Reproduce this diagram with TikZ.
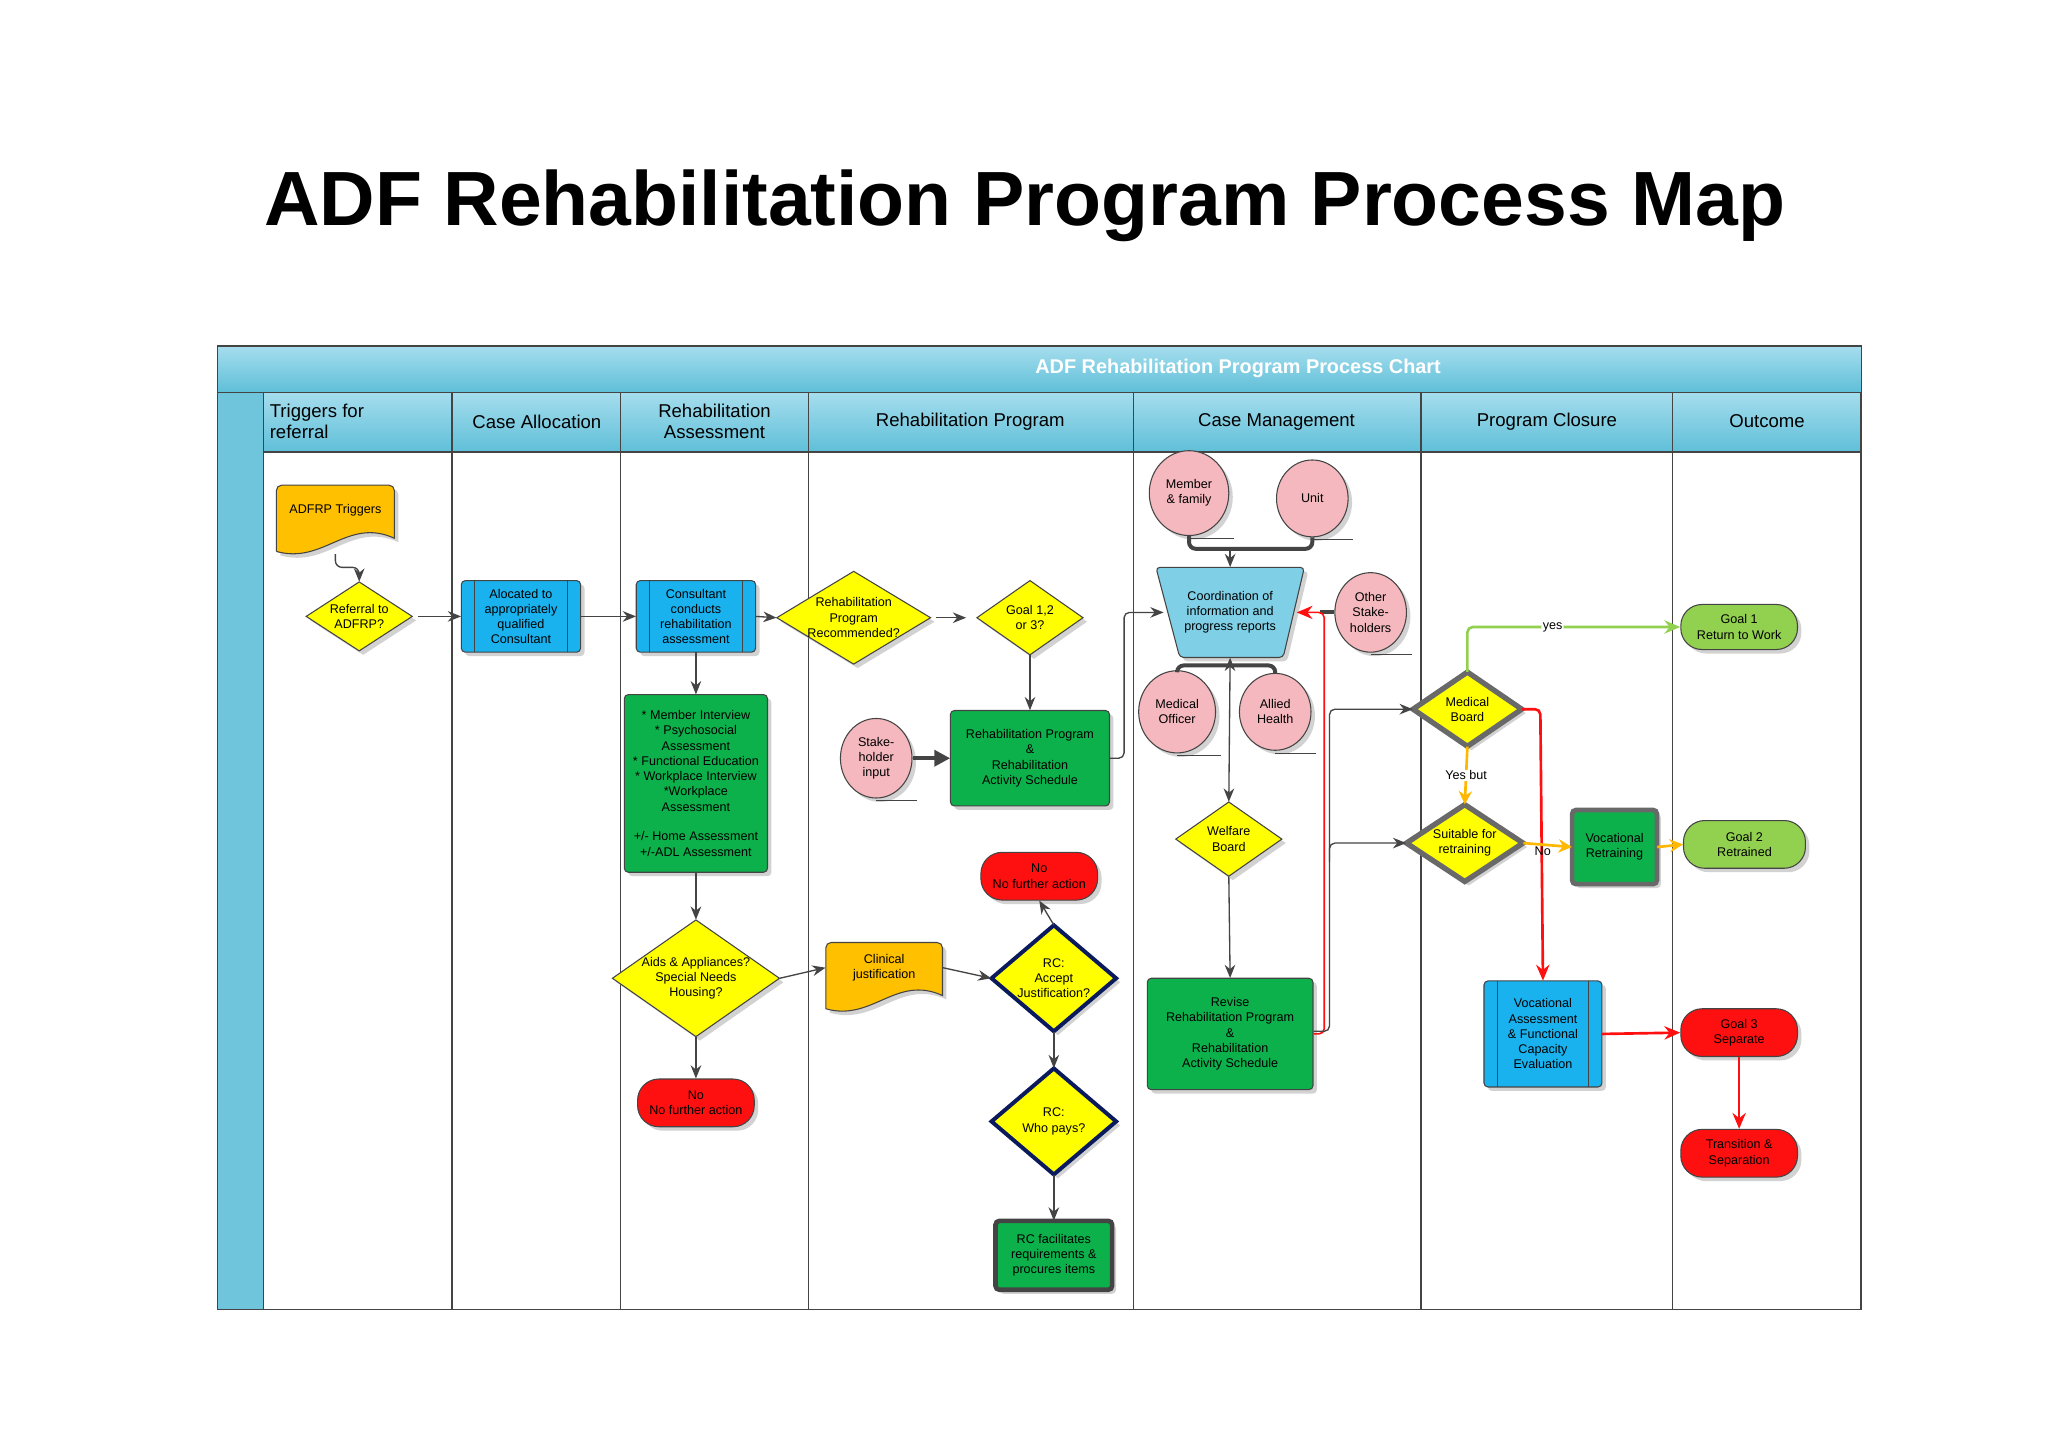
\documentclass[tikz,border=0pt]{standalone}
\usepackage{fontspec}
\setmainfont{Liberation Sans}
\usetikzlibrary{arrows.meta,shapes.geometric,shadows}
\definecolor{hdr}{HTML}{7FCFE6}
\definecolor{hdrd}{HTML}{5FBFD8}
\definecolor{yel}{HTML}{FFFF00}
\definecolor{blu}{HTML}{19B2EE}
\definecolor{grn}{HTML}{0DB14B}
\definecolor{lgrn}{HTML}{92D050}
\definecolor{rd}{HTML}{FF1010}
\definecolor{pnk}{HTML}{F4B8BE}
\definecolor{org}{HTML}{FFC000}
\definecolor{nav}{HTML}{0A1A5C}
\definecolor{edg}{HTML}{444444}
\definecolor{ylo}{HTML}{FFB800}
\newcommand\Dia[7]{%
\path[draw=edg,line width=0.8pt,fill=yel,drop shadow={shadow xshift=3pt,shadow yshift=-3pt,fill=black!35},#6] ({#2-#4/2},#3) -- (#2,{#3-#5/2}) -- ({#2+#4/2},#3) -- (#2,{#3+#5/2}) -- cycle;
\node[txt,minimum width=#4pt,minimum height=#5pt,inner sep=0pt] (#1) at (#2,#3) {#7};}
\newcommand\Rbox[7]{%
\path[draw=edg,line width=0.8pt,rounded corners=3pt,drop shadow={shadow xshift=3pt,shadow yshift=-3pt,fill=black!35},fill=#6] ({#2-#4/2},{#3-#5/2}) rectangle ({#2+#4/2},{#3+#5/2});
\node[txt,minimum width=#4pt,minimum height=#5pt,inner sep=0pt] (#1) at (#2,#3) {#7};}
\newcommand\Proc[6]{%
\Rbox{#1}{#2}{#3}{#4}{#5}{blu}{#6}
\draw[edg,line width=0.8pt] ({#2-#4/2+10},{#3-#5/2}) -- ({#2-#4/2+10},{#3+#5/2}) ({#2+#4/2-10},{#3-#5/2}) -- ({#2+#4/2-10},{#3+#5/2});}
\newcommand\Doc[6]{%
\path[draw=edg,line width=0.8pt,drop shadow={shadow xshift=3pt,shadow yshift=-3pt,fill=black!35},fill=org,rounded corners=4pt] ({#2-#4/2},{#3+#5/2-4}) -- ({#2-#4/2},{#3-#5/2}) -- ({#2+#4/2},{#3-#5/2}) [sharp corners]-- ({#2+#4/2},{#3+#5/2-14}) .. controls ({#2+#4*0.1},{#3+#5/2-30}) and ({#2-#4*0.1},{#3+#5/2+6}) .. ({#2-#4/2},{#3+#5/2-4});
\node[txt,minimum width=#4pt,minimum height=#5pt,inner sep=0pt] (#1) at (#2,{#3-8}) {#6};}
\newcommand\Ell[6]{%
\node[txt,ellipse,draw=edg,line width=0.8pt,fill=pnk,inner sep=0pt,minimum width=#4pt,minimum height=#5pt,drop shadow={shadow xshift=3pt,shadow yshift=-3pt,fill=black!35}] (#1) at (#2,#3) {#6};
\draw[edg,line width=0.6pt] (#2,{#3+#5/2+2}) -- ({#2+#4/2+4},{#3+#5/2+2});}
\newcommand\Pill[7]{%
\node[txt,draw=edg,line width=0.8pt,fill=#6,rounded corners=16pt,inner sep=0pt,minimum width=#4pt,minimum height=#5pt,drop shadow={shadow xshift=3pt,shadow yshift=-3pt,fill=black!35}] (#1) at (#2,#3) {#7};}
\begin{document}
\begin{tikzpicture}[x=1pt,y=-1pt,
 txt/.style={font=\fontsize{9.5}{11.5}\selectfont,align=center,text=black},
 ar/.style={draw=edg,line width=1pt,-{Stealth[length=10pt,width=8pt]}},
 hd/.style={draw=edg,line width=0.8pt,top color=hdr!70!white,bottom color=hdrd}]
\useasboundingbox (0,0) rectangle (1545,1092);
\fill[white] (0,0) rectangle (1545,1092);
\node[font=\fontsize{58}{62}\selectfont\bfseries] (title) at (773,155) {ADF Rehabilitation Program Process Map};
% frame
\path[hd] (164,261) rectangle (1404,296);
\node[font=\fontsize{15}{17}\selectfont\bfseries,text=white] (ctitle) at (934,278) {ADF Rehabilitation Program Process Chart};
\path[draw=edg,line width=0.8pt,fill=hdrd!90] (164,296) rectangle (199,988);
\foreach \a/\b in {199/341,341/468,468/610,610/855,855/1072,1072/1262,1262/1404}{
 \path[hd] (\a,296) rectangle (\b,341);
 \draw[edg,line width=0.8pt] (\a,341) -- (\a,988);}
\draw[edg,line width=1pt] (164,988) -- (1404,988) -- (1404,296);
\node[font=\fontsize{14}{16}\selectfont,align=left,anchor=west] (h1) at (200,318) {Triggers for\\referral};
\node[font=\fontsize{14}{16}\selectfont] (h2) at (405,318) {Case Allocation};
\node[font=\fontsize{14}{16}\selectfont,align=center] (h3) at (539,318) {Rehabilitation\\Assessment};
\node[font=\fontsize{14}{16}\selectfont] (h4) at (732,318) {Rehabilitation Program};
\node[font=\fontsize{14}{16}\selectfont] (h5) at (963,318) {Case Management};
\node[font=\fontsize{14}{16}\selectfont] (h6) at (1167,318) {Program Closure};
\node[font=\fontsize{14}{16}\selectfont] (h7) at (1333,318) {Outcome};
% nodes
\Doc{trig}{253}{393}{89}{54}{ADFRP Triggers}
\Dia{ref}{271}{465}{80}{52}{}{Referral to\\ADFRP?}
\Proc{alloc}{393}{465}{90}{54}{Alocated to\\appropriately\\qualified\\Consultant}
\Proc{cons}{525}{465}{90}{54}{Consultant\\conducts\\rehabilitation\\assessment}
\Dia{rpr}{644}{466}{116}{70}{}{Rehabilitation\\Program\\Recommended?}
\Dia{goal}{777}{466}{80}{56}{}{Goal 1,2\\or 3?}
\Rbox{assess}{525}{591}{108}{134}{grn}{* Member Interview\\* Psychosocial\\Assessment\\* Functional Education\\* Workplace Interview\\*Workplace\\Assessment\\[11pt]+/- Home Assessment\\+/-ADL Assessment}
\Ell{stake}{661}{572}{54}{60}{Stake-\\holder\\input}
\Rbox{rprog}{777}{572}{120}{72}{grn}{Rehabilitation Program\\\&\\Rehabilitation\\Activity Schedule}
\Pill{nofa1}{784}{661}{88}{36}{rd}{No\\No further action}
\Dia{aids}{525}{738}{126}{88}{}{Aids \& Appliances?\\Special Needs\\Housing?}
\Doc{clin}{667}{738}{88}{54}{Clinical\\justification}
\Dia{rcacc}{795}{738}{94}{80}{draw=nav,line width=3pt}{RC:\\Accept\\Justification?}
\Pill{nofa2}{525}{832}{88}{36}{rd}{No\\No further action}
\Dia{rcwho}{795}{846}{94}{80}{draw=nav,line width=3pt}{RC:\\Who pays?}
\Rbox{rcfac}{795}{947}{88}{52}{grn}{RC facilitates\\requirements \&\\procures items}
\draw[edg,line width=3.5pt,rounded corners=3pt] (751,921) rectangle (839,973);
\Ell{member}{897}{372}{60}{64}{Member\\\& family}
\Ell{unit}{990}{376}{54}{58}{Unit}
\path[draw=edg,line width=0.8pt,fill=hdr,drop shadow={shadow xshift=3pt,shadow yshift=-3pt,fill=black!35},rounded corners=3pt] (872,428) -- (984,428) -- (968,496) -- (890,496) -- cycle;
\node[txt,minimum width=100pt,minimum height=68pt,inner sep=0pt] (coord) at (928,462) {Coordination of\\information and\\progress reports};
\Ell{other}{1034}{462}{54}{60}{Other\\Stake-\\holders}
\Ell{medoff}{888}{537}{58}{62}{Medical\\Officer}
\Ell{allied}{962}{537}{54}{58}{Allied\\Health}
\Dia{welfare}{927}{633}{80}{56}{}{Welfare\\Board}
\Rbox{revise}{928}{780}{125}{84}{grn}{Revise\\Rehabilitation Program\\\&\\Rehabilitation\\Activity Schedule}
\Dia{medb}{1107}{535}{82}{56}{draw=edg!80,line width=4pt}{Medical\\Board}
\Dia{suit}{1105}{636}{88}{58}{draw=edg!80,line width=4pt}{Suitable for\\retraining}
\Rbox{vocret}{1218}{639}{64}{56}{grn}{Vocational\\Retraining}
\draw[edg!80,line width=3.5pt,rounded corners=3pt] (1186,611) rectangle (1250,667);
\Proc{vocass}{1164}{780}{89}{80}{Vocational\\Assessment\\\& Functional\\Capacity\\Evaluation}
\Pill{goal1}{1312}{473}{88}{34}{lgrn}{Goal 1\\Return to Work}
\Pill{goal2}{1316}{637}{92}{36}{lgrn}{Goal 2\\Retrained}
\Pill{goal3}{1312}{779}{88}{36}{rd}{Goal 3\\Separate}
\Pill{trans}{1312}{870}{88}{36}{rd}{Transition \&\\Separation}
% connectors
\draw[ar,rounded corners=5pt] (253,418) -- (253,428) -| (ref.north);
\draw[ar] (ref.east) ++(4,0) -- (alloc.west);
\draw[ar] (alloc.east) -- (cons.west);
\draw[ar] (cons.east) -- (rpr.west);
\draw[ar] (rpr.east) ++(4,0) -- ([xshift=-8pt]goal.west);
\draw[ar] (goal.south) -- (rprog.north);
\draw[ar] (cons.south) -- (assess.north);
\draw[ar] (assess.south) -- (aids.north);
\draw[ar] (aids.south) -- (nofa2.north);
\draw[ar] (aids.east) -- (clin.west);
\draw[ar] (clin.east) -- (rcacc.west);
\draw[ar] (rcacc.north) -- (nofa1.south);
\draw[ar] (rcacc.south) -- (rcwho.north);
\draw[ar] (rcwho.south) -- (rcfac.north);
\draw[draw=edg,line width=3pt,-{Triangle[length=12pt,width=12pt]}] (stake.east) -- (rprog.west);
\draw[ar,rounded corners=4pt] (rprog.east) -- (848,572) |- (coord.west);
\draw[edg,line width=3pt,rounded corners=5pt] (member.south) -- (897,414) -| (unit.south);
\draw[draw=edg,line width=1pt,-{Stealth[length=10pt,width=8pt]}] (928,414) -- (coord.north);
\draw[edg,line width=3pt,rounded corners=5pt] (medoff.north) -- (888,502) -| (allied.north);
\draw[ar,{Stealth[length=10pt,width=8pt]}-{Stealth[length=10pt,width=8pt]}] (coord.south) -- (welfare.north);
\draw[ar] (welfare.south) -- (revise.north);
\draw[draw=edg,line width=3pt] (other.west) -- (996,462);
\draw[draw=rd,line width=1.2pt,rounded corners=4pt,-{Stealth[length=12pt,width=10pt]}] (revise.east) -- (999,780) -- (999,462) -- (coord.east);
\draw[ar,rounded corners=4pt] (991,778) -- (1003,778) |- (medb.west);
\draw[ar,rounded corners=4pt] (1003,650) |- (suit.west);
\draw[draw=lgrn,line width=2pt,rounded corners=4pt,-{Stealth[length=12pt,width=10pt]}] (medb.north) |- node[pos=0.7,fill=white,inner sep=1pt,txt]{yes} (goal1.west);
\draw[draw=ylo,line width=2pt,-{Stealth[length=10pt,width=10pt]}] (medb.south) -- node[pos=0.5,fill=white,inner sep=1pt,txt]{Yes but} (suit.north);
\draw[draw=rd,line width=2pt,rounded corners=4pt,-{Stealth[length=12pt,width=10pt]}] (medb.east) -- (1162,535) -- (vocass.north);
\draw[draw=ylo,line width=2pt,-{Stealth[length=10pt,width=10pt]}] (suit.east) -- node[pos=0.4,below,txt,inner sep=1pt]{No} (vocret.west);
\draw[draw=ylo,line width=2pt,-{Stealth[length=10pt,width=10pt]}] (vocret.east) -- (goal2.west);
\draw[draw=rd,line width=2pt,-{Stealth[length=12pt,width=10pt]}] (vocass.east) -- (goal3.west);
\draw[draw=rd,line width=2pt,-{Stealth[length=12pt,width=10pt]}] (goal3.south) -- (trans.north);
\end{tikzpicture}
\end{document}
